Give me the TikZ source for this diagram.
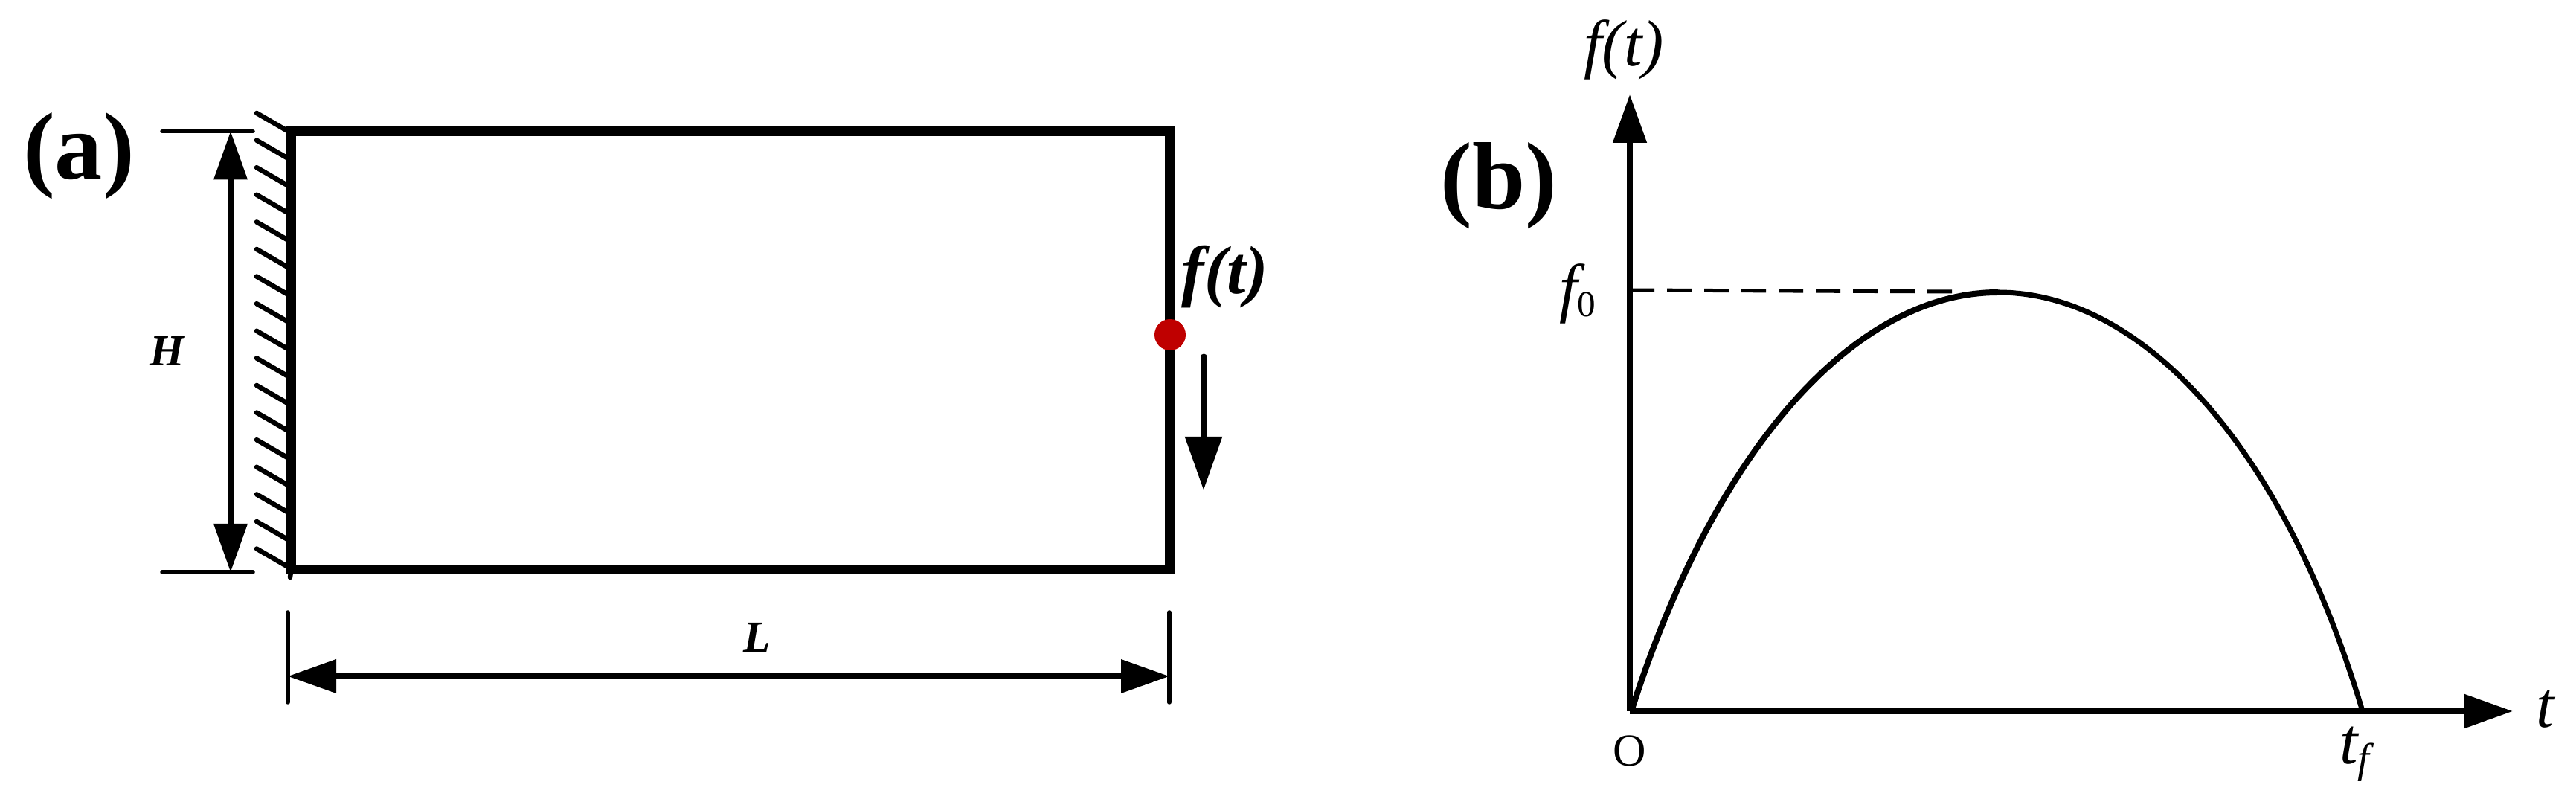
\documentclass[tikz,border=0pt]{standalone}
\usepackage{fontspec}
\setmainfont{Liberation Serif}
\usetikzlibrary{arrows.meta}
\tikzset{
  dimline/.style = {line width = .055cm, line cap = round},
  hatchline/.style = {line width = .065cm, line cap = round},
  dimarrow/.style = {line width = .07cm, {Triangle[length = .65cm, width = .44cm]}-{Triangle[length = .65cm, width = .44cm]}},
  axisarrow/.style = {line width = .08cm, -{Triangle[length = .65cm, width = .44cm]}},
  panel/.style = {font = \fontsize{36.5}{37}\selectfont\bfseries},
  boldmark/.style = {font = \fontsize{17}{17}\selectfont\bfseries\itshape},
  axismark/.style = {font = \fontsize{25}{25}\selectfont\itshape}
}
\newcommand{\lowidx}[2][-.11cm]{\raisebox{#1}{\fontsize{14}{14}\selectfont #2}}
\begin{document}
\begin{tikzpicture}
\useasboundingbox (0, 0) rectangle (34.63, -10.78);
% panel a
\coordinate (TL) at (3.915, -1.765);
\coordinate (TR) at (15.725, -1.765);
\coordinate (BR) at (15.725, -7.655);
\coordinate (BL) at (3.915, -7.655);
\foreach \y in {-1.52,-1.886,...,-7.4}
  \draw [hatchline] (3.45, \y) -- ++(-30:.48);
\coordinate (tail) at (3.90, -7.76);
\draw [hatchline] (BL) -- (tail);
\draw [line width = .135cm, miter limit = 10] (TL) -- (TR) -- (BR) -- (BL) -- cycle;
\coordinate (Hup) at (3.10, -1.765);
\coordinate (Hdn) at (3.10, -7.69);
\draw [dimline] (2.18, -1.765) -- (3.40, -1.765);
\draw [dimline] (2.18, -7.69) -- (3.40, -7.69);
\draw [dimarrow] (Hup) -- (Hdn);
\coordinate (Lleft) at (3.87, -9.09);
\coordinate (Lright) at (15.72, -9.09);
\draw [dimline] (3.87, -8.23) -- (3.87, -9.44);
\draw [dimline] (15.72, -8.23) -- (15.72, -9.44);
\draw [dimarrow] (Lleft) -- (Lright);
\node at (1.06, -2.10) [name=panelA, panel] {(a)};
\node at (2.25, -4.72) [name=hgt, boldmark] {H};
\node at (10.18, -8.57) [name=len, boldmark] {L};
\node at (16.47, -3.72) [name=load, font = \fontsize{26}{26}\selectfont\bfseries\itshape] {f(t)};
\coordinate (Fa) at (16.18, -4.80);
\coordinate (Fb) at (16.18, -6.59);
\draw [line width = .09cm, line cap = round, -{Triangle[length = .72cm, width = .48cm]}] (Fa) -- (Fb);
\node at (15.73, -4.50) [name=dot, circle, fill = red!75!black, inner sep = 0, minimum size = .42cm] {};
% panel b
\coordinate (O) at (21.91, -9.56);
\coordinate (ytip) at (21.91, -1.27);
\coordinate (xtip) at (33.78, -9.56);
\draw [axisarrow] (O) -- (ytip);
\draw [axisarrow] (O) -- (xtip);
\coordinate (top) at (26.86, -3.93);
\coordinate (foot) at (31.76, -9.56);
\draw [line width = .08cm] (21.93, -9.56) .. controls (23.10, -5.90) and (25.00, -3.93) .. (top);
\draw [line width = .07cm] (top) .. controls (28.80, -3.93) and (30.70, -6.00) .. (foot);
\coordinate (peak) at (26.25, -3.92);
\draw [line width = .05cm, dash pattern = on .33cm off .17cm] (21.91, -3.90) -- (peak);
\node at (20.15, -2.50) [name=panelB, panel] {(b)};
\node at (21.83, -.67) [name=ylab, axismark] {f(t)};
\node at (34.22, -9.53) [name=xlab, axismark] {t};
\node at (21.91, -10.09) [name=orig, font = \fontsize{17.5}{18}\selectfont] {O};
\node at (21.21, -3.95) [name=peakval, axismark] {f\lowidx[-.09cm]{\upshape 0}};
\node at (31.65, -10.14) [name=endval, axismark] {t\lowidx[-.12cm]{\fontsize{16}{16}\selectfont f}};
\end{tikzpicture}
\end{document}
